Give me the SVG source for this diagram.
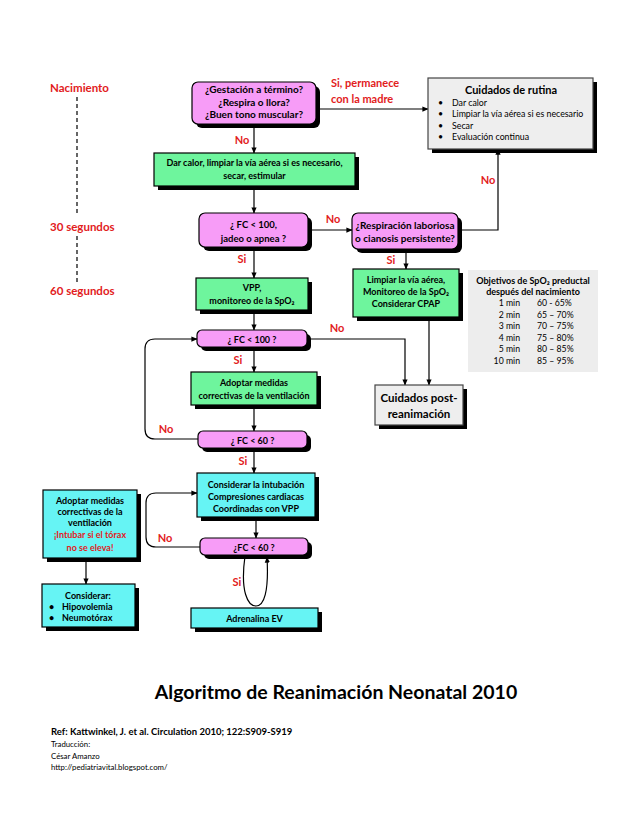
<svg xmlns="http://www.w3.org/2000/svg" width="638" height="826" viewBox="0 0 638 826">
<defs>
<marker id="arr" viewBox="0 0 8 8" refX="7.5" refY="4" markerWidth="6" markerHeight="6" orient="auto" markerUnits="userSpaceOnUse">
<path d="M0,0.5 L8,4 L0,7.5 Z" fill="#000"/>
</marker>
<style>
.sh{fill:#000}
.bx{stroke:#000;stroke-width:1.2}
.pink{fill:#f79cf7}
.green{fill:#6ef59d}
.cyan{fill:#66f4f4}
.gray{fill:#eeeeee;stroke:#444;stroke-width:1.2}
.t{font-family:Lato,"Open Sans","Liberation Sans",sans-serif;font-weight:bold;text-anchor:middle;fill:#000}
.r{font-family:Lato,"Open Sans","Liberation Sans",sans-serif;font-weight:bold;fill:#e2201c}
.n{font-family:Lato,"Open Sans","Liberation Sans",sans-serif;fill:#000}
.c{stroke:#000;stroke-width:1.2;fill:none;marker-end:url(#arr)}
.d{stroke:#000;stroke-width:1.2;stroke-dasharray:4,3;fill:none}
</style>
</defs>
<rect width="638" height="826" fill="#fff"/>

<g id="timeline">
<path class="d" d="M77,97 V216"/>
<path class="d" d="M77,236 V282"/>
<text class="r" x="50" y="92" font-size="11.5">Nacimiento</text>
<text class="r" x="50" y="231" font-size="11.5">30 segundos</text>
<text class="r" x="50" y="295" font-size="11.5">60 segundos</text>
</g>

<g id="connectors">
<path class="c" d="M254,124 V153"/>
<path class="c" d="M316,109 H428"/>
<path class="c" d="M254,186 V213"/>
<path class="c" d="M308,230 H352"/>
<path class="c" d="M458,230 H498 V149"/>
<path class="c" d="M254,247 V278"/>
<path class="c" d="M406,249 V269"/>
<path class="c" d="M254,310 V330"/>
<path class="c" d="M307,339 H405 V385"/>
<path class="c" d="M429,317 V385"/>
<path class="c" d="M254,347 V372"/>
<path class="c" d="M254,405 V431"/>
<path class="c" d="M198,439 H155 Q145,439 145,429 V349 Q145,339 155,339 H197"/>
<path class="c" d="M254,448 V473"/>
<path class="c" d="M256,517 V538"/>
<path class="c" d="M200,547 H156 Q146,547 146,537 V503 Q146,493 156,493 H197"/>
<path class="c" d="M86,558 V584"/>
<path class="c" d="M245,556 C240,592 248,606 256,606 C264,606 269,592 267,557"/>
<text class="r" x="242" y="144" font-size="11" text-anchor="middle">No</text>
<text class="r" x="331" y="87" font-size="11">Si, permanece</text>
<text class="r" x="331" y="103" font-size="11">con la madre</text>
<text class="r" x="488" y="184" font-size="11" text-anchor="middle">No</text>
<text class="r" x="333" y="223" font-size="11" text-anchor="middle">No</text>
<text class="r" x="242" y="263" font-size="11" text-anchor="middle">Si</text>
<text class="r" x="391" y="264" font-size="11" text-anchor="middle">Si</text>
<text class="r" x="337" y="332" font-size="11" text-anchor="middle">No</text>
<text class="r" x="238" y="364" font-size="11" text-anchor="middle">Si</text>
<text class="r" x="166" y="433" font-size="11" text-anchor="middle">No</text>
<text class="r" x="243" y="465" font-size="11" text-anchor="middle">Si</text>
<text class="r" x="165" y="542" font-size="11" text-anchor="middle">No</text>
<text class="r" x="237" y="586" font-size="11" text-anchor="middle">Si</text>
</g>

<g id="n-gestacion">
<rect class="sh" x="196" y="86" width="124" height="42" rx="6"/>
<rect class="bx pink" x="192" y="82" width="124" height="42" rx="6"/>
<text class="t" x="254" y="93" font-size="10">¿Gestación a término?</text>
<text class="t" x="254" y="106" font-size="10">¿Respira o llora?</text>
<text class="t" x="254" y="118" font-size="10">¿Buen tono muscular?</text>
</g>

<g id="n-rutina">
<rect class="sh" x="432" y="82" width="165" height="71"/>
<rect class="gray" x="428" y="78" width="165" height="71"/>
<text class="t" x="511" y="94" font-size="11">Cuidados de rutina</text>
<g class="n" font-size="8.8">
<text x="438" y="106">•</text><text x="452" y="106">Dar calor</text>
<text x="438" y="117">•</text><text x="452" y="117">Limpiar la vía aérea si es necesario</text>
<text x="438" y="129">•</text><text x="452" y="129">Secar</text>
<text x="438" y="140">•</text><text x="452" y="140">Evaluación continua</text>
</g>
</g>

<g id="n-darcalor">
<rect class="sh" x="158" y="157" width="201" height="33"/>
<rect class="bx green" x="154" y="153" width="201" height="33"/>
<text class="t" x="254.5" y="166" font-size="9">Dar calor, limpiar la vía aérea si es necesario,</text>
<text class="t" x="254.5" y="179" font-size="9">secar, estimular</text>
</g>

<g id="n-fc100-jadeo">
<rect class="sh" x="203" y="217" width="109" height="34" rx="6"/>
<rect class="bx pink" x="199" y="213" width="109" height="34" rx="6"/>
<text class="t" x="253.5" y="227.5" font-size="9.5">¿ FC &lt; 100,</text>
<text class="t" x="253.5" y="241.5" font-size="9.5">jadeo o apnea ?</text>
</g>

<g id="n-respiracion">
<rect class="sh" x="356" y="217" width="106" height="36" rx="6"/>
<rect class="bx pink" x="352" y="213" width="106" height="36" rx="6"/>
<text class="t" x="405" y="228.5" font-size="10">¿Respiración laboriosa</text>
<text class="t" x="405" y="241.5" font-size="10">o cianosis persistente?</text>
</g>

<g id="n-vpp">
<rect class="sh" x="200" y="282" width="112" height="32"/>
<rect class="bx green" x="196" y="278" width="112" height="32"/>
<text class="t" x="252" y="290.5" font-size="9">VPP,</text>
<text class="t" x="252" y="303.5" font-size="9">monitoreo de la SpO₂</text>
</g>

<g id="n-limpiar">
<rect class="sh" x="357" y="273" width="106" height="48"/>
<rect class="bx green" x="353" y="269" width="106" height="48"/>
<text class="t" x="406" y="282.5" font-size="9">Limpiar la vía aérea,</text>
<text class="t" x="406" y="294.5" font-size="9">Monitoreo de la SpO₂</text>
<text class="t" x="406" y="306.5" font-size="9">Considerar CPAP</text>
</g>

<g id="n-objetivos">
<rect x="468" y="270" width="130" height="102" fill="#ededed"/>
<text class="t" x="533" y="283.5" font-size="9">Objetivos de SpO₂ preductal</text>
<text class="t" x="533" y="294.5" font-size="9">después del nacimiento</text>
<g class="n" font-size="8.7">
<text x="520" y="306" text-anchor="end">1 min</text><text x="537" y="306">60 - 65%</text>
<text x="520" y="317.5" text-anchor="end">2 min</text><text x="537" y="317.5">65 – 70%</text>
<text x="520" y="329" text-anchor="end">3 min</text><text x="537" y="329">70 – 75%</text>
<text x="520" y="340.5" text-anchor="end">4 min</text><text x="537" y="340.5">75 – 80%</text>
<text x="520" y="352" text-anchor="end">5 min</text><text x="537" y="352">80 – 85%</text>
<text x="520" y="363.5" text-anchor="end">10 min</text><text x="537" y="363.5">85 – 95%</text>
</g>
</g>

<g id="n-fc100">
<rect class="sh" x="201" y="334" width="110" height="17" rx="5"/>
<rect class="bx pink" x="197" y="330" width="110" height="17" rx="5"/>
<text class="t" x="252" y="342.5" font-size="9">¿ FC &lt; 100 ?</text>
</g>

<g id="n-adoptar">
<rect class="sh" x="195" y="376" width="126" height="33"/>
<rect class="bx green" x="191" y="372" width="126" height="33"/>
<text class="t" x="254" y="386" font-size="9">Adoptar medidas</text>
<text class="t" x="254" y="399" font-size="9">correctivas de la ventilación</text>
</g>

<g id="n-post">
<rect class="sh" x="379" y="389" width="88" height="40"/>
<rect class="gray" x="375" y="385" width="88" height="40"/>
<text class="t" x="419" y="402" font-size="11.5">Cuidados post-</text>
<text class="t" x="419" y="418" font-size="11.5">reanimación</text>
</g>

<g id="n-fc60a">
<rect class="sh" x="202" y="435" width="109" height="17" rx="5"/>
<rect class="bx pink" x="198" y="431" width="109" height="17" rx="5"/>
<text class="t" x="252.5" y="443.5" font-size="9">¿ FC &lt; 60 ?</text>
</g>

<g id="n-intubacion">
<rect class="sh" x="201" y="477" width="118" height="44"/>
<rect class="bx cyan" x="197" y="473" width="118" height="44"/>
<text class="t" x="256" y="487.5" font-size="9">Considerar la intubación</text>
<text class="t" x="256" y="499.5" font-size="9">Compresiones cardiacas</text>
<text class="t" x="256" y="511.5" font-size="9">Coordinadas con VPP</text>
</g>

<g id="n-fc60b">
<rect class="sh" x="204" y="542" width="108" height="17" rx="5"/>
<rect class="bx pink" x="200" y="538" width="108" height="17" rx="5"/>
<text class="t" x="254" y="550.5" font-size="9">¿FC &lt; 60 ?</text>
</g>

<g id="n-adoptar-left">
<rect class="sh" x="47" y="494" width="94" height="68"/>
<rect class="bx cyan" x="43" y="490" width="94" height="68"/>
<text class="t" x="90" y="503.5" font-size="9">Adoptar medidas</text>
<text class="t" x="90" y="514.5" font-size="9">correctivas de la</text>
<text class="t" x="90" y="525.5" font-size="9">ventilación</text>
<text class="t" x="90" y="537.5" font-size="9" style="fill:#e2201c">¡Intubar si el tórax</text>
<text class="t" x="90" y="550.5" font-size="9" style="fill:#e2201c">no se eleva!</text>
</g>

<g id="n-considerar">
<rect class="sh" x="46" y="588" width="93" height="43"/>
<rect class="bx cyan" x="42" y="584" width="93" height="43"/>
<text class="t" x="88" y="598.5" font-size="9">Considerar:</text>
<text class="n" x="49" y="609.5" font-size="9" font-weight="bold">•</text>
<text class="n" x="62" y="609.5" font-size="9" font-weight="bold">Hipovolemia</text>
<text class="n" x="49" y="620.5" font-size="9" font-weight="bold">•</text>
<text class="n" x="62" y="620.5" font-size="9" font-weight="bold">Neumotórax</text>
</g>

<g id="n-adrenalina">
<rect class="sh" x="195" y="612" width="127" height="20"/>
<rect class="bx cyan" x="191" y="608" width="127" height="20"/>
<text class="t" x="254.5" y="621.5" font-size="9">Adrenalina EV</text>
</g>

<g id="footer">
<text class="t" x="336" y="699" font-size="19.5">Algoritmo de Reanimación Neonatal 2010</text>
<text class="n" x="51" y="734.5" font-size="9.5" font-weight="bold">Ref: Kattwinkel, J. et al. Circulation 2010; 122:S909-S919</text>
<text class="n" x="51" y="747" font-size="7.8">Traducción:</text>
<text class="n" x="51" y="759" font-size="7.8">César Amanzo</text>
<text class="n" x="51" y="770" font-size="7.8">http://pediatriavital.blogspot.com/</text>
</g>
</svg>
